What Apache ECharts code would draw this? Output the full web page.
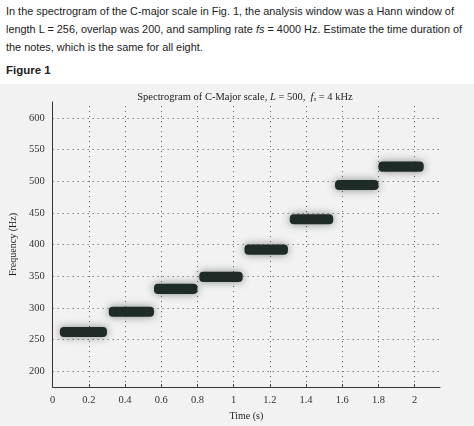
<!DOCTYPE html><html><head><meta charset="utf-8">
<script src="https://cdn.jsdelivr.net/npm/echarts@6/dist/echarts.min.js"></script>
<style>
body{margin:0;width:474px;height:426px;overflow:hidden;background:#fff;font-family:Arial,"Liberation Sans",sans-serif;}
#q{position:absolute;left:6px;top:2px;font-size:10.9px;line-height:18px;color:#222;white-space:nowrap;}
#f{position:absolute;left:6px;top:64px;font-size:11.5px;font-weight:bold;color:#222;}
#c{position:absolute;left:0;top:84px;width:474px;height:342px;background:#f2f2f2;}
</style></head><body>
<div id="q">In the spectrogram of the C-major scale in Fig. 1, the analysis window was a Hann window of<br>length L = 256, overlap was 200, and sampling rate <i>fs</i> = 4000 Hz. Estimate the time duration of<br>the notes, which is the same for all eight.</div>
<div id="f">Figure 1</div>
<div id="c"></div>
<script>
const noteStart=[0.04,0.31,0.56,0.81,1.06,1.31,1.56,1.80];
const noteEnd=[0.30,0.56,0.80,1.05,1.30,1.55,1.80,2.05];
const noteFreq=[262,294,330,349,392,440,494,523];
const yTicks=[200,250,300,350,400,450,500,550,600];
const xTicks=[0.2,0.4,0.6,0.8,1,1.2,1.4,1.6,1.8,2];
const ch=echarts.init(document.getElementById('c'));
const ser='"Liberation Serif","DejaVu Serif",serif';
const grid={type:[1,4],color:'#555',width:1};
ch.setOption({
 animation:false,
 title:{text:'Spectrogram of C-Major scale, {i|L} = 500,  {i|f}{s|s} = 4 kHz',left:240,textAlign:'center',top:3,textStyle:{fontFamily:ser,fontSize:10.5,fontWeight:'normal',color:'#222',
  rich:{i:{fontFamily:ser,fontSize:10.5,fontStyle:'italic',color:'#222'},s:{fontFamily:ser,fontSize:7,fontStyle:'italic',color:'#222',verticalAlign:'bottom',padding:[4,0,0,0]}}}},
 grid:{left:50,right:34,top:18,bottom:32},
 xAxis:{type:'value',min:0,max:2.14,interval:0.2,name:'Time (s)',nameLocation:'middle',nameGap:18,nameTextStyle:{fontFamily:ser,fontSize:10,color:'#222'},
  axisLine:{lineStyle:{color:'#333'}},axisTick:{inside:true,length:3,lineStyle:{color:'#333'}},splitLine:{show:false},
  axisLabel:{showMaxLabel:false,fontFamily:ser,fontSize:10.5,color:'#333',margin:8}},
 yAxis:{type:'value',min:175,max:625,interval:25,name:'Frequency (Hz)',nameLocation:'middle',nameGap:33,nameTextStyle:{fontFamily:ser,fontSize:10,color:'#222'},
  axisLine:{show:true,lineStyle:{color:'#333'}},axisTick:{show:false},splitLine:{show:false},
  axisLabel:{fontFamily:ser,fontSize:10.5,color:'#333',formatter:v=>v%50===0?String(v):''}},
 series:[{type:'custom',renderItem:(p,api)=>{
   const a=api.coord([api.value(0),api.value(2)+8]),b=api.coord([api.value(1),api.value(2)-8]);
   return {type:'rect',shape:{x:a[0],y:a[1],width:b[0]-a[0],height:b[1]-a[1],r:4},style:{fill:'#1e2b26',shadowBlur:8,shadowColor:'rgba(30,43,38,0.5)'}};
  },encode:{x:[0,1],y:2},data:noteStart.map((s,i)=>[s,noteEnd[i],noteFreq[i]]),z:5,
  markLine:{silent:true,symbol:'none',label:{show:false},lineStyle:grid,
   data:yTicks.map(v=>({yAxis:v})).concat(xTicks.map(v=>({xAxis:v})))}}]
});
</script></body></html>
